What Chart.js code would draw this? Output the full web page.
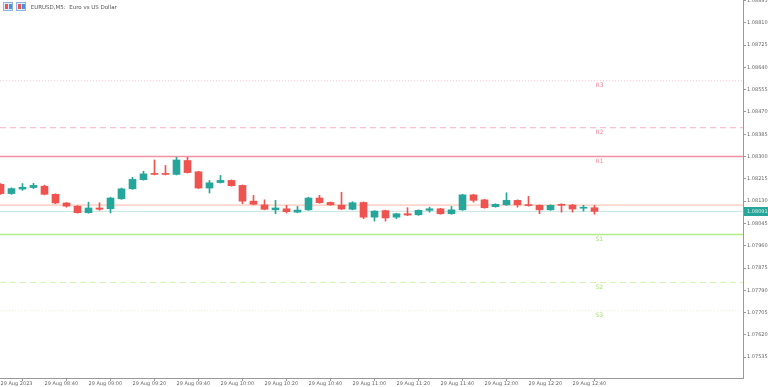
<!DOCTYPE html>
<html>
<head>
<meta charset="utf-8">
<script src="https://cdn.jsdelivr.net/npm/chart.js@4.4.0/dist/chart.umd.min.js"></script>
<style>
  html, body { margin: 0; padding: 0; background: #ffffff; }
  #wrap { position: relative; width: 768px; height: 387px; }
  #title { position: absolute; left: 3px; top: 2px; font-family: "DejaVu Sans", sans-serif; font-size: 5.5px; color: #555; display: flex; align-items: center; gap: 3px; }
  .ico { width: 8px; height: 7px; border: 1px solid #8fb3e0; background: #e3eefb; display: inline-flex; }
  .ico span { width: 3px; height: 5px; margin: 1px 0 0 1px; }
  #c { position: absolute; left: 0; top: 0; }
</style>
</head>
<body>
<div id="wrap">
  <canvas id="c" width="768" height="387"></canvas>
  <div id="title"><span class="ico"><span style="background:#ef5350"></span><span style="background:#4a8fe0"></span></span><span class="ico"><span style="background:#ef5350"></span><span style="background:#4a8fe0"></span></span><span>&nbsp;EURUSD,M5:&nbsp; Euro vs US Dollar</span></div>
</div>
<script>
// ---- data (EURUSD M5, 29 Aug 2023, from 08:20) ----
const openVals = [1.08194,1.08159,1.08176,1.08182,1.08187,1.08156,1.08123,1.08111,1.08086,1.08104,
1.08101,1.08139,1.08177,1.08212,1.08235,1.08235,1.08232,1.08285,1.08242,1.08180,
1.08201,1.08209,1.08190,1.08130,1.08116,1.08097,1.08101,1.08088,1.08097,1.08142,
1.08125,1.08115,1.08099,1.08125,1.08069,1.08094,1.08069,1.08082,1.08078,1.08095,
1.08101,1.08082,1.08097,1.08154,1.08135,1.08109,1.08116,1.08133,1.08116,1.08114,
1.08097,1.08116,1.08115,1.08103,1.08105];
const highVals = [1.08197,1.08181,1.08197,1.08198,1.08191,1.08158,1.08125,1.08113,1.08126,1.08124,
1.08145,1.08180,1.08221,1.08244,1.08287,1.08266,1.08297,1.08297,1.08244,1.08209,
1.08228,1.08211,1.08192,1.08152,1.08135,1.08133,1.08114,1.08110,1.08145,1.08152,
1.08127,1.08164,1.08128,1.08127,1.08094,1.08096,1.08084,1.08105,1.08097,1.08107,
1.08103,1.08110,1.08156,1.08156,1.08137,1.08120,1.08162,1.08135,1.08148,1.08116,
1.08116,1.08120,1.08118,1.08114,1.08114];
const lowVals = [1.08156,1.08156,1.08171,1.08178,1.08154,1.08120,1.08107,1.08084,1.08084,1.08095,
1.08085,1.08137,1.08175,1.08210,1.08230,1.08230,1.08230,1.08237,1.08178,1.08161,
1.08199,1.08187,1.08120,1.08116,1.08097,1.08082,1.08085,1.08086,1.08095,1.08122,
1.08114,1.08098,1.08097,1.08063,1.08054,1.08054,1.08063,1.08075,1.08076,1.08088,
1.08080,1.08080,1.08095,1.08126,1.08103,1.08107,1.08114,1.08107,1.08111,1.08082,
1.08095,1.08088,1.08088,1.08092,1.08080];
const closeVals = [1.08159,1.08178,1.08183,1.08190,1.08156,1.08123,1.08111,1.08086,1.08104,1.08099,
1.08142,1.08177,1.08213,1.08234,1.08232,1.08232,1.08287,1.08239,1.08180,1.08200,
1.08209,1.08189,1.08130,1.08118,1.08099,1.08104,1.08090,1.08096,1.08142,1.08124,
1.08116,1.08100,1.08124,1.08069,1.08092,1.08066,1.08082,1.08077,1.08095,1.08101,
1.08082,1.08097,1.08154,1.08133,1.08105,1.08118,1.08133,1.08116,1.08113,1.08097,
1.08114,1.08114,1.08100,1.08107,1.08091];

const xTickIndex = [0,4,8,12,16,20,24,28,32,36,40,44,48,52];
const xTickLabels = ["29 Aug 2023","29 Aug 08:40","29 Aug 09:00","29 Aug 09:20","29 Aug 09:40","29 Aug 10:00",
  "29 Aug 10:20","29 Aug 10:40","29 Aug 11:00","29 Aug 11:20","29 Aug 11:40","29 Aug 12:00","29 Aug 12:20","29 Aug 12:40"];
const yTickValues = [1.07535,1.07620,1.07705,1.07790,1.07875,1.07960,1.08045,1.08130,1.08215,
  1.08300,1.08385,1.08470,1.08555,1.08640,1.08725,1.08810,1.08895];

const levelNames  = ["R3","R2","R1","S1","S2","S3"];
const levelValues = [1.08589,1.08410,1.08300,1.08003,1.07820,1.07712];
const pivotValue = 1.08115;
const bidValue = 1.08091;

// ---- styles ----
const UP = '#26a69a', DOWN = '#ef5350';
const levelStyles = [
  {color:'#f9c4cf', dash:[1,2], width:1},
  {color:'#f7b3c1', dash:[6,4], width:1},
  {color:'#f28fa3', dash:[],    width:1.5},
  {color:'#b4ec86', dash:[],    width:1.5},
  {color:'#d2f4b2', dash:[6,4], width:1},
  {color:'#e2f6cc', dash:[1,2], width:1}
];
const X_MIN = -0.045, X_MAX = 67.5;

const candleColors = openVals.map((o,i) => closeVals[i] >= o ? UP : DOWN);

const datasets = [];
datasets.push({
  type:'bar', label:'body', order:1,
  data: openVals.map((o,i) => ({x:i, y:[o, closeVals[i]]})),
  backgroundColor: candleColors, borderWidth:0,
  barThickness:7, minBarLength:1, grouped:false
});
datasets.push({
  type:'bar', label:'wick', order:2,
  data: lowVals.map((l,i) => ({x:i, y:[l, highVals[i]]})),
  backgroundColor: candleColors, borderWidth:0,
  barThickness:1, grouped:false
});
levelValues.forEach((v,k) => {
  datasets.push({
    type:'line', label:levelNames[k], order:10,
    data:[{x:X_MIN,y:v},{x:X_MAX,y:v}],
    borderColor:levelStyles[k].color, borderDash:levelStyles[k].dash,
    borderWidth:levelStyles[k].width, pointRadius:0, fill:false
  });
});
datasets.push({type:'line', label:'pivot', order:10, data:[{x:X_MIN,y:pivotValue},{x:X_MAX,y:pivotValue}],
  borderColor:'#fbb9a3', borderWidth:1, pointRadius:0});
datasets.push({type:'line', label:'bid', order:10, data:[{x:X_MIN,y:bidValue},{x:X_MAX,y:bidValue}],
  borderColor:'#c6e4e0', borderWidth:1, pointRadius:0});

const overlay = {
  id:'overlay',
  afterDatasetsDraw(chart){
    const {ctx, scales:{x, y}} = chart;
    ctx.save();
    ctx.font = '6px "DejaVu Sans", sans-serif';
    ctx.textAlign = 'left';
    ctx.textBaseline = 'top';
    const lx = x.getPixelForValue(openVals.length - 1) + 1;
    levelValues.forEach((v,k) => {
      const py = y.getPixelForValue(v);
      ctx.fillStyle = k < 3 ? '#f08ca0' : '#a6de74';
      ctx.fillText(levelNames[k], lx, py + 1.5);
    });
    ctx.restore();
  },
  afterDraw(chart){
    const {ctx, chartArea, scales:{y}} = chart;
    const py = y.getPixelForValue(bidValue);
    ctx.save();
    ctx.fillStyle = UP;
    ctx.fillRect(chartArea.right + 1, Math.round(py) - 4, 24, 9);
    ctx.fillStyle = '#d8f0ec';
    ctx.font = '5px "DejaVu Sans", sans-serif';
    ctx.textAlign = 'left';
    ctx.textBaseline = 'middle';
    ctx.fillText(bidValue.toFixed(5), chartArea.right + 4, Math.round(py) + 0.5);
    ctx.restore();
  }
};

new Chart(document.getElementById('c'), {
  data: { datasets },
  options: {
    responsive:false, animation:false,
    layout:{ padding:0 },
    plugins:{ legend:{display:false}, tooltip:{enabled:false}, title:{display:false} },
    scales:{
      x:{
        type:'linear', position:'bottom', min:X_MIN, max:X_MAX, offset:false,
        grid:{ drawOnChartArea:false, drawTicks:true, tickLength:3, color:'#999' },
        border:{ display:true, color:'#999' },
        afterBuildTicks(s){ s.ticks = xTickIndex.map(v => ({value:v})); },
        afterFit(s){ s.height = 9; s.paddingLeft = 0; s.paddingRight = 0; },
        ticks:{ autoSkip:false, maxRotation:0, minRotation:0, align:'start', padding:0,
          font:{ size:5, family:'"DejaVu Sans", sans-serif' }, color:'#666',
          callback(v){ const i = xTickIndex.indexOf(v); return i >= 0 ? xTickLabels[i] : ''; } }
      },
      y:{
        type:'linear', position:'right', min:1.074557, max:1.08897,
        grid:{ drawOnChartArea:false, drawTicks:true, tickLength:3, color:'#999' },
        border:{ display:true, color:'#999' },
        afterBuildTicks(s){ s.ticks = yTickValues.map(v => ({value:v})); },
        afterFit(s){ s.width = 25; s.paddingTop = 0; s.paddingBottom = 0; },
        ticks:{ padding:1, font:{ size:5, family:'"DejaVu Sans", sans-serif' }, color:'#666',
          callback(v){ return v.toFixed(5); } }
      }
    }
  },
  plugins:[overlay]
});
</script>
</body>
</html>
